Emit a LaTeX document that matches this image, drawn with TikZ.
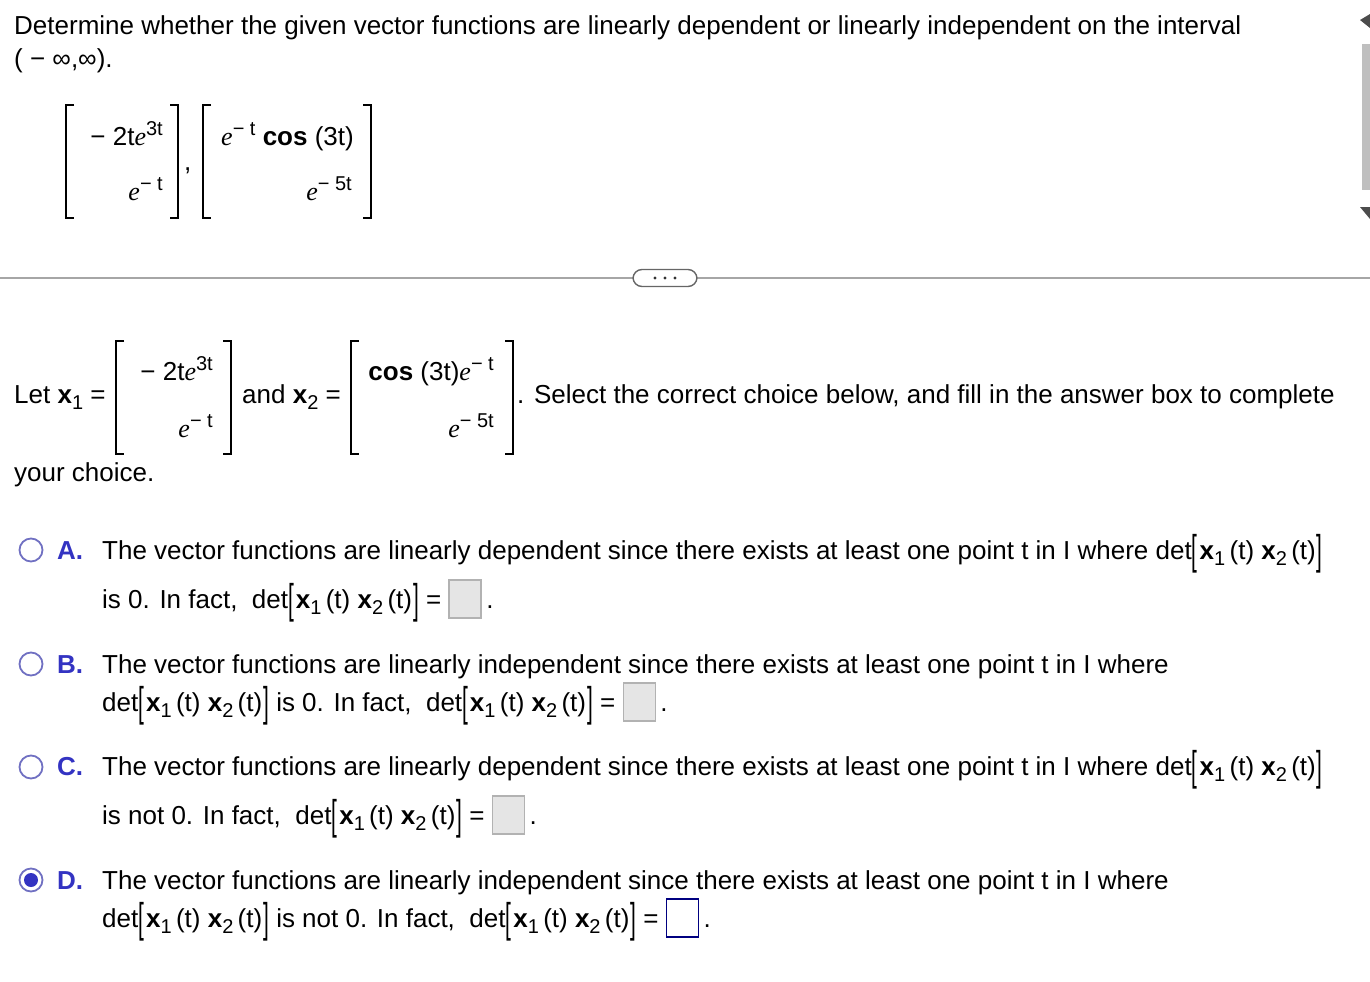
\documentclass[tikz,border=0pt]{standalone}
\usepackage{fontspec}
\setmainfont{Liberation Sans}
\newfontfamily\ef{Liberation Serif}
\newcommand{\ee}{{\ef\itshape e}}
\newcommand{\mysu}[1]{\raisebox{10pt}{\fontsize{20}{20}\selectfont #1}}
\newcommand{\mysb}[1]{\raisebox{-6pt}{\fontsize{20}{20}\selectfont #1}}
\newcommand{\xo}{\textbf{x}\mysb{1}}
\newcommand{\xt}{\textbf{x}\mysb{2}}
\newcommand{\lb}{\raisebox{-5pt}{\scalebox{0.8}[1.6]{[}}\kern2pt}
\newcommand{\rb}{\kern1pt\raisebox{-5pt}{\scalebox{0.8}[1.6]{]}}}
\newcommand{\dx}{det\lb\xo\,(t) \xt\,(t)\rb}
\newcommand{\abox}{\tikz[x=1pt,y=1pt,baseline=10pt]\draw[draw=gray!60,fill=gray!20,line width=1.5pt](0,0)rectangle(32,38);}
\newcommand{\wbox}{\tikz[x=1pt,y=1pt,baseline=10pt]\draw[draw=blue!50!black,fill=white,line width=1.5pt](0,0)rectangle(32,38);}
\begin{document}
\begin{tikzpicture}[x=1pt,y=-1pt,
  every node/.style={inner sep=0pt,anchor=base west,font=\fontsize{26}{30}\selectfont},
  brk/.style={line width=1.6pt},
  opt/.style={font=\fontsize{26}{30}\selectfont\bfseries,text=blue!70!black!80},
  rad/.style={draw=blue!40!gray!80,line width=1.8pt,fill=white}]
\useasboundingbox (0,0) rectangle (1370,982);
\node (l1) at (14,35) {Determine whether the given vector functions are linearly dependent or linearly independent on the interval};
\node (l2) at (14,67) {( − ∞,∞).};
% top matrices
\draw[brk] (74,105)--(66,105)--(66,218)--(74,218);
\draw[brk] (170,105)--(178,105)--(178,218)--(170,218);
\node[anchor=base east] (a1) at (163,145) {− 2t\ee\mysu{3t}};
\node[anchor=base east] (a2) at (163,200) {\ee\mysu{− t}};
\node (cm) at (184,170) {,};
\draw[brk] (211,105)--(203,105)--(203,218)--(211,218);
\draw[brk] (363,105)--(371,105)--(371,218)--(363,218);
\node[anchor=base east] (b1) at (354,145) {\ee\mysu{− t} \textbf{cos} (3t)};
\node[anchor=base east] (b2) at (352,200) {\ee\mysu{− 5t}};
% separator
\draw[gray!70,line width=1.2pt] (0,278)--(1370,278);
\node[draw=gray!80!black,line width=1.4pt,fill=white,rounded corners=9pt,minimum width=64pt,minimum height=17pt,anchor=center] (dots) at (665,278) {};
\foreach \i in {-10,0,10} \fill[black!80] (665+\i,278) circle (1.7);
% scrollbar
\fill[gray!50] (1362,44) rectangle (1370,190);
\fill[gray!60!black] (1360,20)--(1370,14)--(1370,28)--cycle;
\fill[gray!60!black] (1360,207)--(1370,207)--(1370,219)--cycle;
% Let line
\node (let) at (14,403) {Let \xo\ =};
\draw[brk] (124,341)--(116,341)--(116,454)--(124,454);
\draw[brk] (223,341)--(231,341)--(231,454)--(223,454);
\node[anchor=base east] (c1) at (213,380) {− 2t\ee\mysu{3t}};
\node[anchor=base east] (c2) at (213,437) {\ee\mysu{− t}};
\node (and) at (242,403) {and \xt\ =};
\draw[brk] (359,341)--(351,341)--(351,454)--(359,454);
\draw[brk] (505,341)--(513,341)--(513,454)--(505,454);
\node[anchor=base east] (d1) at (494,380) {\textbf{cos} (3t)\ee\mysu{− t}};
\node[anchor=base east] (d2) at (494,437) {\ee\mysu{− 5t}};
\node (sel) at (517,403) {. Select the correct choice below, and fill in the answer box to complete};
\node (yc) at (14,481) {your choice.};
% options
\draw[rad] (31,550) circle (11.5);
\node[opt] (A) at (57,559) {A.};
\node (A1) at (102,559) {The vector functions are linearly dependent since there exists at least one point t in I where \dx};
\node (A2) at (102,608) {is 0. In fact,\ \ \dx\ = \abox\,.};
\draw[rad] (31,664) circle (11.5);
\node[opt] (B) at (57,673) {B.};
\node (B1) at (102,673) {The vector functions are linearly independent since there exists at least one point t in I where};
\node (B2) at (102,711) {\dx\ is 0. In fact,\ \ \dx\ = \abox\,.};
\draw[rad] (31,767) circle (11.5);
\node[opt] (C) at (57,775) {C.};
\node (C1) at (102,775) {The vector functions are linearly dependent since there exists at least one point t in I where \dx};
\node (C2) at (102,824) {is not 0. In fact,\ \ \dx\ = \abox\,.};
\draw[rad] (31,880) circle (11.5);
\fill[blue!70!black!80] (31,880) circle (7);
\node[opt] (D) at (57,889) {D.};
\node (D1) at (102,889) {The vector functions are linearly independent since there exists at least one point t in I where};
\node (D2) at (102,927) {\dx\ is not 0. In fact,\ \ \dx\ = \wbox\,.};
\end{tikzpicture}
\end{document}
